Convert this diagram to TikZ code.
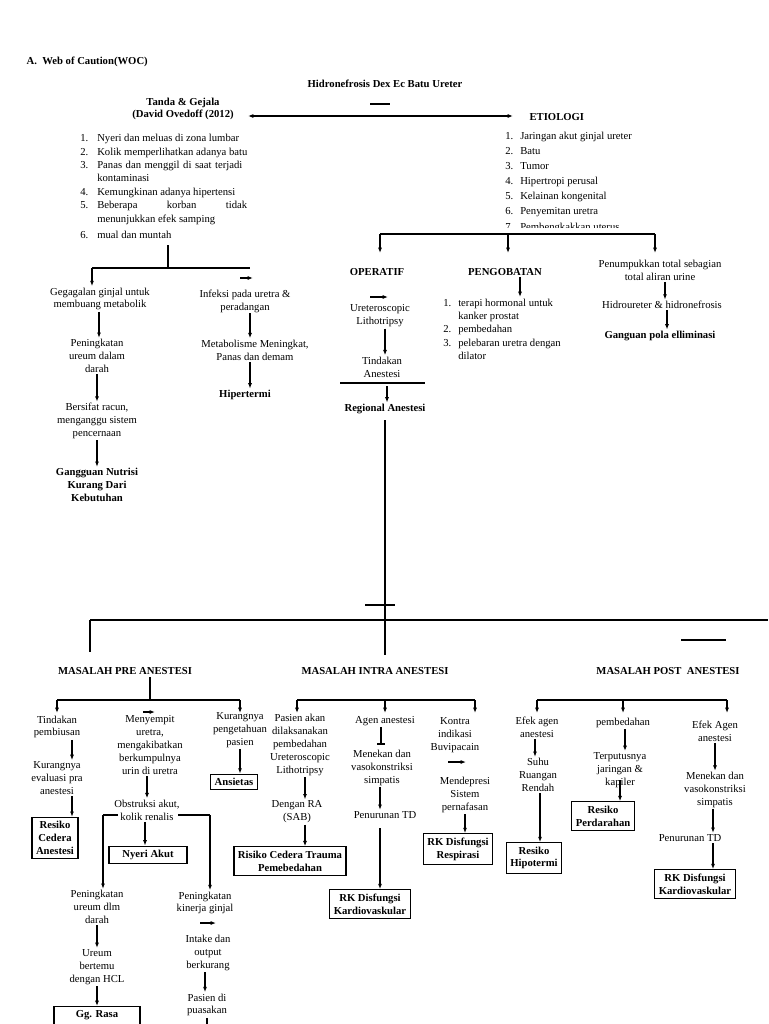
\documentclass[tikz,border=0pt]{standalone}
\usepackage{fontspec}
\setmainfont{Liberation Serif}
\usetikzlibrary{arrows.meta}
\begin{document}
\begin{tikzpicture}[x=0.75pt,y=-0.75pt,
  t/.style={font=\fontsize{8}{9.6}\selectfont, align=center, inner sep=1pt},
  b/.style={t, font=\fontsize{8}{9.6}\selectfont\bfseries},
  li/.style={font=\fontsize{8}{9.6}\selectfont, anchor=base west, inner sep=0pt},
  bx/.style={b, draw, line width=0.9pt, inner sep=3pt},
  ln/.style={line width=0.9pt},
  ar/.style={line width=0.9pt, -{Latex[length=4pt,width=3pt]}}]
\useasboundingbox (0,0) rectangle (768,1024);
\fill[white] (0,0) rectangle (768,1024);
% header
\node[b, anchor=west] (title) at (25,62) {A.\enspace Web of Caution(WOC)};
\node[b] (main) at (385,84) {Hidronefrosis Dex Ec Batu Ureter};
\coordinate (d1) at (370,104); \coordinate (d2) at (390,104);
\draw[ln] (d1) -- (d2);
\node[b] (tanda) at (183,109) {Tanda \& Gejala\\(David Ovedoff (2012)};
\node[b, anchor=west] (etio) at (528,117) {ETIOLOGI};
\coordinate (da) at (248,116); \coordinate (db) at (513,116);
\draw[line width=0.9pt, {Latex[length=4pt,width=3pt]}-{Latex[length=4pt,width=3pt]}] (da) -- (db);
% left list
\foreach \n/\y/\s in {1./142/Nyeri dan meluas di zona lumbar, 2./155/Kolik memperlihatkan adanya batu, 3./168/Panas\,\,dan\,\,menggil\,\,di\,\,saat\,\,terjadi, /181/kontaminasi, 4./195/Kemungkinan adanya hipertensi, 5./208/Beberapa\hspace{22pt}korban\hspace{22pt}tidak, /222/menunjukkan efek samping, 6./238/mual dan muntah}{
  \node[li] at (80,\y) {\n};
  \node[li] at (97,\y) {\s};
}
% right list
\begin{scope}
\clip (490,120) rectangle (700,227);
\foreach \n/\y/\s in {1./139/Jaringan akut ginjal ureter, 2./154/Batu, 3./169/Tumor, 4./184/Hipertropi perusal, 5./199/Kelainan kongenital, 6./214/Penyemitan uretra, 7./230/Pembengkakkan uterus}{
  \node[li] at (505,\y) {\n};
  \node[li] at (520,\y) {\s};
}
\end{scope}
% left branch
\coordinate (l0) at (168,245); \coordinate (l1) at (168,268);
\coordinate (l2) at (92,268); \coordinate (l3) at (250,268);
\draw[ln] (l0) -- (l1); \draw[ln] (l2) -- (l3);
\node[t] (gag) at (100,299) {Gegagalan ginjal untuk\\membuang metabolik};
\draw[ar] (l2) -- (gag.north -| l2);
\coordinate (sa1) at (240,278); \coordinate (sa2) at (253,278);
\draw[ar] (sa1) -- (sa2);
\node[t] (inf) at (245,301) {Infeksi pada uretra \&\\peradangan};
\node[t] (pen1) at (97,356) {Peningkatan\\ureum dalam\\darah};
\node[t] (ber) at (97,421) {Bersifat racun,\\menganggu sistem\\pencernaan};
\node[b] (gnk) at (97,485) {Gangguan Nutrisi\\Kurang Dari\\Kebutuhan};
\draw[ar] (gag.south -| 99,0) -- (pen1.north -| 99,0);
\draw[ar] (pen1.south) -- (ber.north);
\draw[ar] (ber.south) -- (gnk.north);
\node[t] (meta) at (255,350) {Metabolisme Meningkat,\\Panas dan demam};
\node[b] (hip) at (245,395) {Hipertermi};
\draw[ar] (250,313) -- (meta.north -| 250,0);
\draw[ar] (meta.south -| 250,0) -- (hip.north -| 250,0);
% etiologi tree
\coordinate (e1) at (380,234); \coordinate (e2) at (508,234); \coordinate (e3) at (655,234);
\draw[ln] (e1) -- (e3);
\node[b] (op) at (377,272) {OPERATIF};
\node[b] (peng) at (505,272) {PENGOBATAN};
\node[t] (penum) at (660,270) {Penumpukkan total sebagian\\total aliran urine};
\draw[ar] (e1) -- (380,253); \draw[ar] (e2) -- (508,253); \draw[ar] (e3) -- (655,253);
\coordinate (oa1) at (370,297); \coordinate (oa2) at (388,297);
\draw[ar] (oa1) -- (oa2);
\node[t] (ure) at (380,316) {Ureteroscopic\\Lithotripsy};
\node[t] (tind) at (382,367) {Tindakan\\Anestesi};
\draw[ar] (ure.south -| 385,0) -- (tind.north -| 385,0);
\coordinate (h1) at (340,383); \coordinate (h2) at (425,383);
\draw[line width=1.4pt] (h1) -- (h2);
\node[b] (reg) at (385,409) {Regional Anestesi};
\draw[ar] (387,386) -- (reg.north -| 387,0);
\foreach \n/\y/\s in {1./306/terapi hormonal untuk, /319/kanker prostat, 2./332/pembedahan, 3./346/pelebaran uretra dengan, /359/dilator}{
  \node[li] at (443,\y) {\n};
  \node[li] at (458,\y) {\s};
}
\draw[ar] (peng.south -| 520,0) ++(0,0) -- (520,297);
\node[t] (hidro) at (662,305) {Hidroureter \& hidronefrosis};
\node[b] (gang) at (660,336) {Ganguan pola elliminasi};
\draw[ar] (penum.south -| 665,0) -- (hidro.north -| 665,0);
\draw[line width=1.4pt, -{Latex[length=4pt,width=3pt]}] (hidro.south -| 667,0) -- (gang.north -| 667,0);
% trunk
\coordinate (tr) at (385,620);
\draw[ln] (385,420) -- (tr);
\draw[ln] (365,605) -- (395,605);
\coordinate (m0) at (90,620); \coordinate (m1) at (768,620);
\draw[ln] (m0) -- (m1);
\draw[ln] (m0) -- (90,652);
\draw[ln] (tr) -- (385,655);
\draw[ln] (681,640) -- (726,640);
% bottom headers
\node[b] (pre) at (125,671) {MASALAH PRE ANESTESI};
\node[b] (intra) at (375,671) {MASALAH INTRA ANESTESI};
\node[b] (post) at (668,671) {MASALAH POST\enspace ANESTESI};
% PRE
\draw[ln] (150,677) -- (150,700); \draw[ln] (57,700) -- (240,700);
\draw[ar] (57,700) -- (57,713); \draw[ar] (240,700) -- (240,713);
\draw[ar] (143,712) -- (155,712);
\node[t] (tp) at (57,727) {Tindakan\\pembiusan};
\node[t] (ke) at (57,778) {Kurangnya\\evaluasi pra\\anestesi};
\draw[ar] (tp.south -| 72,0) -- (ke.north -| 72,0);
\node[bx] (rca) at (55,838) {Resiko\\Cedera\\Anestesi};
\draw[ar] (ke.south -| 72,0) -- (rca.north -| 72,0);
\node[t] (meny) at (150,745) {Menyempit\\uretra,\\mengakibatkan\\berkumpulnya\\urin di uretra};
\node[t] (obs) at (147,810) {Obstruksi akut,\\kolik renalis};
\draw[ar] (meny.south -| 147,0) -- (obs.north -| 147,0);
\node[bx, minimum width=78pt*0.75] (nyeri) at (148,855) {Nyeri Akut};
\draw[ar] (obs.south -| 145,0) -- (nyeri.north -| 145,0);
\node[t] (kp) at (240,730) {Kurangnya\\pengetahuan\\pasien};
\node[bx] (ans) at (234,782) {Ansietas};
\draw[ar] (kp.south -| 240,0) -- (ans.north -| 240,0);
\node[t] (pu) at (97,907) {Peningkatan\\ureum dlm\\darah};
\node[t] (pk) at (205,903) {Peningkatan\\kinerja ginjal};
\draw[ln] (118,815) -- (103,815) coordinate (bl);
\draw[ar] (bl) -- (pu.north -| bl);
\draw[ln] (178,815) -- (210,815) coordinate (br);
\draw[ar] (br) -- (pk.north -| br);
\node[t] (ub) at (97,967) {Ureum\\bertemu\\dengan HCL};
\draw[ar] (pu.south) -- (ub.north);
\node[bx, minimum width=86pt*0.75, minimum height=30pt*0.75, anchor=north] (gg) at (97,1006) {Gg. Rasa\\\strut};
\draw[ar] (ub.south) -- (gg.north);
\draw[ar] (200,923) -- (216,923);
\node[t] (io) at (208,953) {Intake dan\\output\\berkurang};
\node[t] (pd) at (207,1005) {Pasien di\\puasakan};
\draw[ar] (io.south -| 205,0) -- (pd.north -| 205,0);
\coordinate (pde) at (207,1030);
\draw[ar] (pd.south -| 207,0) -- (pde);
% INTRA
\draw[ln] (297,700) -- (475,700);
\draw[ar] (297,700) -- (297,713); \draw[ar] (385,700) -- (385,713); \draw[ar] (475,700) -- (475,713);
\node[t] (pa) at (300,745) {Pasien akan\\dilaksanakan\\pembedahan\\Ureteroscopic\\Lithotripsy};
\node[t] (ra) at (297,812) {Dengan RA\\(SAB)};
\draw[ar] (pa.south -| 305,0) -- (ra.north -| 305,0);
\node[bx] (rct) at (290,861) {Risiko Cedera Trauma\\Pemebedahan};
\draw[ar] (ra.south -| 305,0) -- (rct.north -| 305,0);
\node[t] (ag) at (385,721) {Agen anestesi};
\node[t] (mv) at (382,768) {Menekan dan\\vasokonstriksi\\simpatis};
\draw[ln] (ag.south -| 381,0) -- (381,744); \draw[ln] (377,744) -- (385,744);
\node[t] (ptd) at (385,815) {Penurunan TD};
\draw[ar] (mv.south -| 380,0) -- (ptd.north -| 380,0);
\node[bx] (rkk) at (370,904) {RK Disfungsi\\Kardiovaskular};
\draw[ar] (380,828) -- (rkk.north -| 380,0);
\node[t] (ko) at (455,735) {Kontra\\indikasi\\Buvipacain};
\draw[ar] (448,762) -- (466,762);
\node[t] (md) at (465,795) {Mendepresi\\Sistem\\pernafasan};
\node[bx] (rkr) at (458,849) {RK Disfungsi\\Respirasi};
\draw[ar] (md.south -| 465,0) -- (rkr.north -| 465,0);
% POST
\draw[ln] (537,700) -- (727,700);
\draw[ar] (537,700) -- (537,713); \draw[ar] (623,700) -- (623,713); \draw[ar] (727,700) -- (727,713);
\node[t] (ea) at (537,727) {Efek agen\\anestesi};
\node[t] (su) at (538,775) {Suhu\\Ruangan\\Rendah};
\draw[ar] (ea.south -| 535,0) -- (su.north -| 535,0);
\node[bx] (rh) at (534,858) {Resiko\\Hipotermi};
\draw[ar] (su.south -| 540,0) -- (rh.north -| 540,0);
\node[t] (pb) at (623,723) {pembedahan};
\node[t] (tj) at (620,770) {Terputusnya\\jaringan \&\\kapiler};
\draw[ar] (pb.south -| 625,0) -- (tj.north -| 625,0);
\node[bx] (rp) at (603,816) {Resiko\\Perdarahan};
\draw[ar] (620,780) -- (rp.north -| 620,0);
\node[t] (ea2) at (715,731) {Efek Agen\\anestesi};
\node[t] (mv2) at (715,790) {Menekan dan\\vasokonstriksi\\simpatis};
\draw[ar] (ea2.south -| 715,0) -- (mv2.north -| 715,0);
\node[t] (ptd2) at (690,838) {Penurunan TD};
\draw[ar] (mv2.south -| 713,0) -- (ptd2.north -| 713,0);
\node[bx] (rkk2) at (695,884) {RK Disfungsi\\Kardiovaskular};
\draw[ar] (ptd2.south -| 713,0) -- (rkk2.north -| 713,0);
\end{tikzpicture}
\end{document}
